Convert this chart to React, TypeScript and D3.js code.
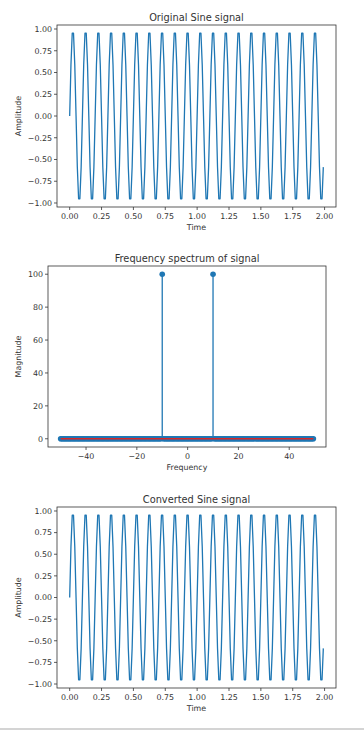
import React from "react";
import * as d3 from "d3";

// ---------- DATA ----------
// Original sine signal samples (10 Hz sine sampled at 100 Hz, t = 0 .. 1.99 s)
const originalSignal: number[] = [
  0, 0.588, 0.951, 0.951, 0.588, 0, -0.588, -0.951, -0.951, -0.588,
  0, 0.588, 0.951, 0.951, 0.588, 0, -0.588, -0.951, -0.951, -0.588,
  0, 0.588, 0.951, 0.951, 0.588, 0, -0.588, -0.951, -0.951, -0.588,
  0, 0.588, 0.951, 0.951, 0.588, 0, -0.588, -0.951, -0.951, -0.588,
  0, 0.588, 0.951, 0.951, 0.588, 0, -0.588, -0.951, -0.951, -0.588,
  0, 0.588, 0.951, 0.951, 0.588, 0, -0.588, -0.951, -0.951, -0.588,
  0, 0.588, 0.951, 0.951, 0.588, 0, -0.588, -0.951, -0.951, -0.588,
  0, 0.588, 0.951, 0.951, 0.588, 0, -0.588, -0.951, -0.951, -0.588,
  0, 0.588, 0.951, 0.951, 0.588, 0, -0.588, -0.951, -0.951, -0.588,
  0, 0.588, 0.951, 0.951, 0.588, 0, -0.588, -0.951, -0.951, -0.588,
  0, 0.588, 0.951, 0.951, 0.588, 0, -0.588, -0.951, -0.951, -0.588,
  0, 0.588, 0.951, 0.951, 0.588, 0, -0.588, -0.951, -0.951, -0.588,
  0, 0.588, 0.951, 0.951, 0.588, 0, -0.588, -0.951, -0.951, -0.588,
  0, 0.588, 0.951, 0.951, 0.588, 0, -0.588, -0.951, -0.951, -0.588,
  0, 0.588, 0.951, 0.951, 0.588, 0, -0.588, -0.951, -0.951, -0.588,
  0, 0.588, 0.951, 0.951, 0.588, 0, -0.588, -0.951, -0.951, -0.588,
  0, 0.588, 0.951, 0.951, 0.588, 0, -0.588, -0.951, -0.951, -0.588,
  0, 0.588, 0.951, 0.951, 0.588, 0, -0.588, -0.951, -0.951, -0.588,
  0, 0.588, 0.951, 0.951, 0.588, 0, -0.588, -0.951, -0.951, -0.588,
  0, 0.588, 0.951, 0.951, 0.588, 0, -0.588, -0.951, -0.951, -0.588,
];
// Inverse transform reproduces the original samples
const convertedSignal: number[] = originalSignal.slice();
const sampleInterval = 0.01;
const sampleTimes: number[] = originalSignal.map((_, i) => i * sampleInterval);

// Spectrum: frequency bins (-50 .. 49.5, step 0.5), magnitude zero except the peaks
const spectrumFreqs: number[] = d3.range(-100, 100).map((k) => k * 0.5);
const peakFreqs: number[] = [-10, 10];
const peakMagnitudes: number[] = [100, 100];
const spectrumMags: number[] = spectrumFreqs.map((f) => {
  const i = peakFreqs.indexOf(f);
  return i >= 0 ? peakMagnitudes[i] : 0;
});

const timeTicks = [0, 0.25, 0.5, 0.75, 1.0, 1.25, 1.5, 1.75, 2.0];
const ampTicks = [-1, -0.75, -0.5, -0.25, 0, 0.25, 0.5, 0.75, 1.0];
const freqTicks = [-40, -20, 0, 20, 40];
const magTicks = [0, 20, 40, 60, 80, 100];

// ---------- STYLE ----------
const BLUE = "#1f77b4";
const RED = "#d62728";
const FONT = "DejaVu Sans, sans-serif";
const TEXT = "#333";

const W = 364;
const H = 732;

function padDomain(vals: number[]): [number, number] {
  const [lo, hi] = d3.extent(vals) as [number, number];
  const m = (hi - lo) * 0.05;
  return [lo - m, hi + m];
}

type Box = { left: number; right: number; top: number; bottom: number };

function Axes({
  box,
  x,
  y,
  xTicks,
  yTicks,
  xFmt,
  yFmt,
  title,
  xLabel,
  yLabel,
  children,
}: {
  box: Box;
  x: d3.ScaleLinear<number, number>;
  y: d3.ScaleLinear<number, number>;
  xTicks: number[];
  yTicks: number[];
  xFmt: (v: number) => string;
  yFmt: (v: number) => string;
  title: string;
  xLabel: string;
  yLabel: string;
  children?: React.ReactNode;
}) {
  const clipId = "clip-" + title.replace(/\s+/g, "-");
  const cy = (box.top + box.bottom) / 2;
  return (
    <g>
      <defs>
        <clipPath id={clipId}>
          <rect x={box.left} y={box.top} width={box.right - box.left} height={box.bottom - box.top} />
        </clipPath>
      </defs>
      <g clipPath={`url(#${clipId})`}>{children}</g>
      <rect
        x={box.left}
        y={box.top}
        width={box.right - box.left}
        height={box.bottom - box.top}
        fill="none"
        stroke="#333"
        strokeWidth={0.8}
      />
      {xTicks.map((t) => (
        <g key={"x" + t}>
          <line x1={x(t)} x2={x(t)} y1={box.bottom} y2={box.bottom + 3} stroke="#333" strokeWidth={0.8} />
          <text
            x={x(t)}
            y={box.bottom + 11.5}
            textAnchor="middle"
            fontSize={7.9}
            fontFamily={FONT}
            fill={TEXT}
          >
            {xFmt(t)}
          </text>
        </g>
      ))}
      {yTicks.map((t) => (
        <g key={"y" + t}>
          <line x1={box.left - 3} x2={box.left} y1={y(t)} y2={y(t)} stroke="#333" strokeWidth={0.8} />
          <text
            x={box.left - 5}
            y={y(t)}
            dy="0.35em"
            textAnchor="end"
            fontSize={7.9}
            fontFamily={FONT}
            fill={TEXT}
          >
            {yFmt(t)}
          </text>
        </g>
      ))}
      <text
        x={(box.left + box.right) / 2}
        y={box.top - 4.5}
        textAnchor="middle"
        fontSize={9.8}
        fontFamily={FONT}
        fill={TEXT}
      >
        {title}
      </text>
      <text
        x={(box.left + box.right) / 2}
        y={box.bottom + 23}
        textAnchor="middle"
        fontSize={7.9}
        fontFamily={FONT}
        fill={TEXT}
      >
        {xLabel}
      </text>
      <text
        transform={`translate(${20.5},${cy}) rotate(-90)`}
        textAnchor="middle"
        fontSize={7.9}
        fontFamily={FONT}
        fill={TEXT}
      >
        {yLabel}
      </text>
    </g>
  );
}

const minus = (s: string) => s.replace("-", "\u2212");

function SignalPlot({ box, values, title }: { box: Box; values: number[]; title: string }) {
  const x = d3.scaleLinear().domain(padDomain(sampleTimes)).range([box.left, box.right]);
  const y = d3.scaleLinear().domain(padDomain(values)).range([box.bottom, box.top]);
  const line = d3
    .line<number>()
    .x((_, i) => x(sampleTimes[i]))
    .y((v) => y(v));
  return (
    <Axes
      box={box}
      x={x}
      y={y}
      xTicks={timeTicks}
      yTicks={ampTicks}
      xFmt={(v) => minus(d3.format(".2f")(v))}
      yFmt={(v) => minus(d3.format(".2f")(v))}
      title={title}
      xLabel="Time"
      yLabel="Amplitude"
    >
      <path d={line(values) || ""} fill="none" stroke={BLUE} strokeWidth={1.3} strokeLinejoin="round" />
    </Axes>
  );
}

function SpectrumPlot({ box }: { box: Box }) {
  const x = d3.scaleLinear().domain(padDomain(spectrumFreqs)).range([box.left, box.right]);
  const y = d3.scaleLinear().domain(padDomain([0, ...spectrumMags])).range([box.bottom, box.top]);
  const [f0, f1] = d3.extent(spectrumFreqs) as [number, number];
  return (
    <Axes
      box={box}
      x={x}
      y={y}
      xTicks={freqTicks}
      yTicks={magTicks}
      xFmt={(v) => minus(String(v))}
      yFmt={(v) => String(v)}
      title="Frequency spectrum of signal"
      xLabel="Frequency"
      yLabel="Magnitude"
    >
      {spectrumFreqs.map((f, i) => (
        <line key={"s" + i} x1={x(f)} x2={x(f)} y1={y(0)} y2={y(spectrumMags[i])} stroke={BLUE} strokeWidth={1.3} />
      ))}
      {spectrumFreqs.map((f, i) => (
        <circle key={"m" + i} cx={x(f)} cy={y(spectrumMags[i])} r={2.8} fill={BLUE} />
      ))}
      <line x1={x(f0)} x2={x(f1)} y1={y(0)} y2={y(0)} stroke={RED} strokeWidth={1.3} />
    </Axes>
  );
}

export default function App() {
  return (
    <svg
      width={W}
      height={H}
      style={{ position: "absolute", left: 0, top: 0, background: "#fff" }}
    >
      <rect x={0} y={0} width={W} height={H} fill="#fff" />
      <SignalPlot box={{ left: 57, right: 336, top: 25, bottom: 207 }} values={originalSignal} title="Original Sine signal" />
      <SpectrumPlot box={{ left: 48, right: 326, top: 266, bottom: 447 }} />
      <SignalPlot box={{ left: 57, right: 336, top: 507, bottom: 688 }} values={convertedSignal} title="Converted Sine signal" />
      <line x1={0} x2={W} y1={729} y2={729} stroke="#aaa" strokeWidth={1.2} />
    </svg>
  );
}
